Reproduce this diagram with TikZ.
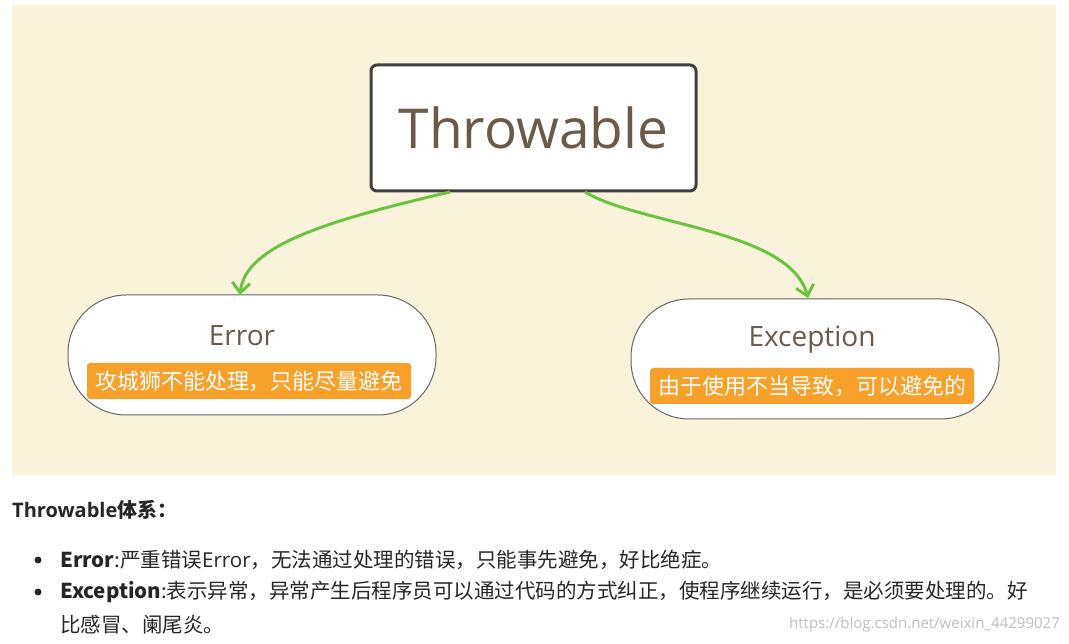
\documentclass[tikz,border=0pt]{standalone}
\usepackage{fontspec}
\setmainfont{Open Sans}
\newfontfamily\cjk{Noto Sans CJK SC}
\newfontfamily\cjkb{Noto Sans CJK SC Bold}
\usetikzlibrary{arrows.meta}
\definecolor{panel}{HTML}{FAF3DC}
\definecolor{brownt}{HTML}{6B5A48}
\definecolor{orng}{HTML}{F8A12A}
\definecolor{grn}{HTML}{6CC33E}
\tikzset{
  x=1pt,y=-1pt,
  child/.style={draw=black!60,line width=1pt,fill=white,rounded corners=58pt,minimum width=368pt,minimum height=120pt},
  tag/.style={fill=orng,rounded corners=3pt,text=white,font=\cjk\fontsize{22}{24}\selectfont,minimum width=324pt,minimum height=36pt,inner sep=0pt},
  conn/.style={grn,line width=3pt,-{Straight Barb[length=10pt,width=18pt,line width=3pt]}},
  body/.style={anchor=west,font=\cjk\fontsize{20.5}{23}\selectfont,text=black!85,inner sep=0pt}
}
\begin{document}
\begin{tikzpicture}
\useasboundingbox (0,0) rectangle (1069,644);
\fill[panel] (12,5) rectangle (1056,475);
\node[draw=black!75,line width=3pt,fill=white,rounded corners=6pt,minimum width=325pt,minimum height=126pt,text=brownt,font=\fontsize{55}{60}\selectfont] (thr) at (533.5,128) {Throwable};
\node[child] (err) at (252,355) {};
\node[text=brownt,font=\fontsize{28}{32}\selectfont] (errt) at (242,336) {Error};
\node[tag] (errtag) at (249,381) {攻城狮不能处理，只能尽量避免};
\node[child] (exc) at (815,359) {};
\node[text=brownt,font=\fontsize{28}{32}\selectfont] (exct) at (812,340) {Exception};
\node[tag] (exctag) at (812,386) {由于使用不当导致，可以避免的};
\coordinate (a1) at (450,192);
\coordinate (a2) at (585,192);
\draw[conn] (a1) .. controls (330,220) and (245,245) .. (240,295);
\draw[conn] (a2) .. controls (640,225) and (790,230) .. (808,298);
\node[body,font=\bfseries\fontsize{20}{22}\selectfont] (h) at (12,510) {Throwable\cjkb 体系：};
\fill[black!85] (38,560) circle (3.5pt) coordinate (b1);
\fill[black!85] (38,592) circle (3.5pt) coordinate (b2);
\node[body] (l1) at (60,560) {{\bfseries Error}:严重错误{\fontspec{Open Sans}Error}，无法通过处理的错误，只能事先避免，好比绝症。};
\node[body] (l2) at (60,592) {{\bfseries Exception}:表示异常，异常产生后程序员可以通过代码的方式纠正，使程序继续运行，是必须要处理的。好};
\node[body] (l3) at (60,625) {比感冒、阑尾炎。};
\node[anchor=east,text=black!25,font=\fontsize{15}{18}\selectfont,inner sep=0pt] (wm) at (1060,625) {https://blog.csdn.net/weixin\_44299027};
\end{tikzpicture}
\end{document}
